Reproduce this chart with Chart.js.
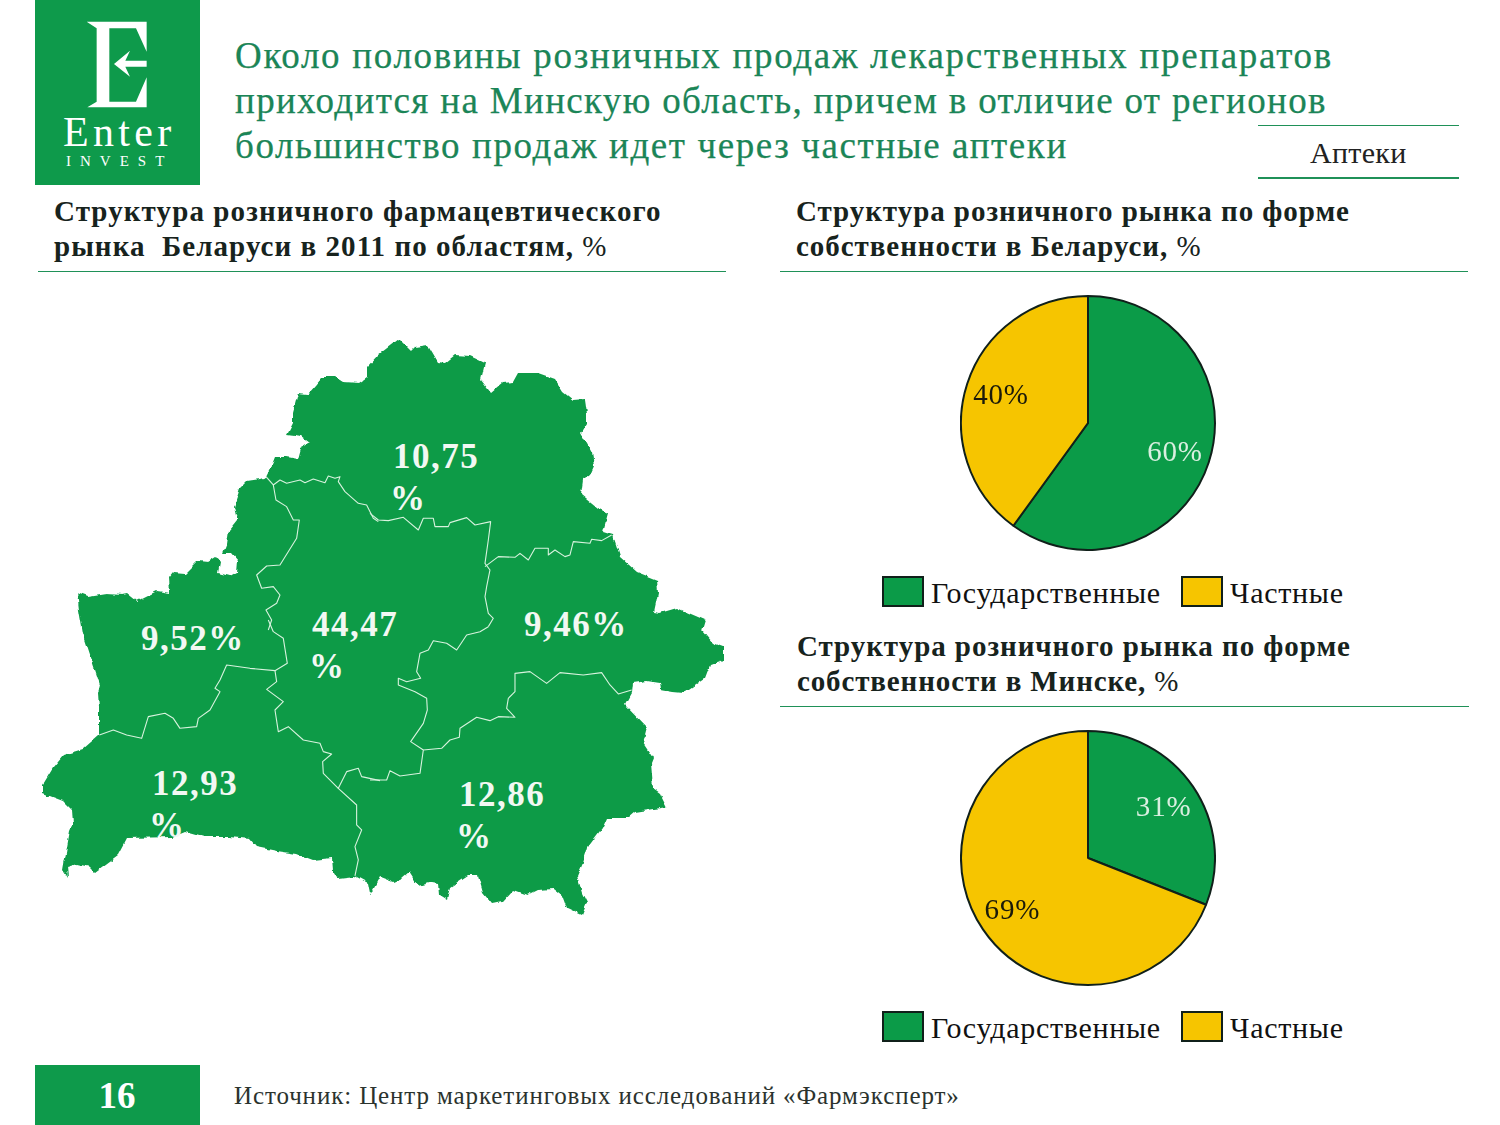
<!DOCTYPE html>
<html lang="ru">
<head>
<meta charset="utf-8">
<title>Аптеки</title>
<script src="https://cdn.jsdelivr.net/npm/chart.js@4/dist/chart.umd.min.js"></script>
<style>
html, body { margin: 0; padding: 0; background: #fff; }
#page { position: relative; width: 1500px; height: 1125px; overflow: hidden; font-family: "Liberation Serif", serif; }
.abs { position: absolute; white-space: pre; }
.title { left: 235px; color: #1b8557; font-size: 37px; line-height: 45px; -webkit-text-stroke: 0.25px #1b8557; }
.head { color: #17231d; font-weight: bold; font-size: 29px; line-height: 35px; letter-spacing: 0.95px; }
.head span { font-weight: normal; }
.rule { position: absolute; height: 1px; background: #1f9158; }
.region { color: #f2f8f3; font-weight: bold; font-size: 35px; line-height: 42px; letter-spacing: 1.5px; }
.region span { margin-left: -3px; }
.legend-box { position: absolute; width: 38px; height: 27px; border: 2px solid #10201a; }
.legend-text { color: #111; font-size: 30px; line-height: 34px; letter-spacing: 0.7px; }
canvas { position: absolute; }
</style>
</head>
<body>
<div id="page">
  <svg class="abs" style="left:0;top:0" width="1500" height="1125">
    <defs>
      <!-- roughens the straight outline segments into a coastline-like edge -->
      <filter id="rough" x="0" y="0" width="100%" height="100%" filterUnits="objectBoundingBox">
        <feTurbulence type="fractalNoise" baseFrequency="0.12" numOctaves="2" seed="4"/>
        <feDisplacementMap in="SourceGraphic" scale="5" xChannelSelector="R" yChannelSelector="G"/>
        <feGaussianBlur stdDeviation="0.45"/>
      </filter>
    </defs>
    <!-- logo and page number block -->
    <rect x="35" y="0" width="165" height="185" fill="#0e9a4b"/>
    <rect x="35" y="1065" width="165" height="60" fill="#0e9a4b"/>
    <g transform="translate(30,0) scale(0.3333)" fill="#fff">
      <path d="M170,65 L350,65 L350,155 L318,85 L238,85 L238,305 L318,305 L350,232 L350,322 L172,322 L200,305 L200,85 Z"/>
      <path d="M252,192 L300,152 L286,182 L350,182 L350,200 L286,200 L300,230 Z"/>
    </g>
    <text x="63" y="146" fill="#fff" font-family="Liberation Serif" font-size="42" letter-spacing="4.3">Enter</text>
    <text x="66" y="166" fill="#fff" font-family="Liberation Serif" font-size="15" letter-spacing="9">INVEST</text>

    <!-- map outline and region borders -->
    <g filter="url(#rough)">
    <path fill="#0a9b47" d="M77,592 L88,596 107,593 122,594 127,593 137,601 157,591 170,593 169,578 173,573 185,574 198,561 208,562 216,557 220,562 218,573 230,576 237,572 238,560 232,553 223,553 227,543 229,530 237,520 234,507 240,488 247,481 260,479 266,477 271,467 275,457 287,457 298,459 301,448 310,443 302,437 287,435 293,423 293,412 298,393 308,394 323,377 335,377 343,382 360,383 367,378 367,367 378,355 399,339 411,351 415,347 428,345 438,362 445,363 455,355 470,356 485,363 481,380 491,393 503,383 513,382 518,373 538,373 555,379 563,392 573,400 585,399 587,413 587,423 581,433 592,453 594,466 590,475 583,480 581,495 597,508 608,513 603,532 613,535 620,557 637,572 657,580 658,593 654,612 660,613 677,608 705,620 702,630 713,643 724,647 724,660 710,665 705,678 683,693 672,692 661,690 660,683 647,681 633,683 632,692 625,705 647,728 643,743 653,758 651,763 653,788 660,793 667,807 635,812 628,818 607,818 603,827 588,847 583,863 577,877 582,893 587,903 582,915 567,908 563,897 553,889 537,890 527,895 513,890 502,902 492,904 483,893 478,875 468,875 450,887 447,900 439,895 438,883 432,882 418,886 409,872 402,878 393,882 380,877 373,890 370,893 368,883 355,876 338,878 333,870 332,858 313,860 297,854 277,851 257,847 250,839 230,837 203,837 185,832 173,837 127,838 118,855 95,872 90,867 77,864 67,867 68,878 63,870 70,830 73,823 72,810 63,801 42,793 42,785 53,767 63,755 83,749 99,735 99,707 98,693 100,685 83,633 79,610 Z"/>
    </g>
    <g fill="none" stroke="#d8f3de" stroke-linejoin="round" stroke-width="3.3">
      <g transform="translate(30,330) scale(0.3333)">
        <polyline points="708,440 730,465 750,450 770,460 810,450 825,458 850,447 885,458 895,438 915,445 930,440 925,455 945,485 985,520 1010,525 1030,565 1045,575"/>
        <polyline points="730,465 738,510 770,530 790,570 808,570 800,625 750,705 710,708 680,735 695,775 730,770 750,795 740,820 708,840 725,870 715,900"/>
      </g>
      <g transform="translate(370,330) scale(0.3333)">
        <polyline points="0,550 25,570 55,572 100,562 145,600 160,565 190,565 195,590 235,590 240,578 290,563 315,585 362,575 355,630 345,700 360,720 350,770 345,800 355,850 370,865 355,890"/>
        <polyline points="345,710 385,680 435,682 450,670 475,690 495,655 535,655 535,675 555,660 585,680 600,675 610,635 660,640 665,628 695,632 725,615"/>
      </g>
      <g transform="translate(370,630) scale(0.3333)">
        <polyline points="355,-10 330,5 290,15 260,60 230,40 190,32 175,60 150,70 140,125 152,145 110,155 85,145 85,165 135,185 170,205 172,240 160,280 122,335 160,360 150,430 90,438 60,422 50,450 0,450"/>
        <polyline points="160,360 215,355 240,330 268,322 270,295 320,262 360,272 385,260 435,262 410,235 415,205 435,185 435,130 480,125 530,160 570,128 640,135 695,128 720,165 745,192 785,180"/>
      </g>
      <g transform="translate(30,630) scale(0.3333)">
        <polyline points="715,-30 730,5 760,25 772,100 735,122"/>
        <polyline points="208,315 250,300 290,315 335,325 355,260 405,250 430,265 450,295 500,290 505,265 540,240 570,185 555,175 570,150 590,105 660,115 735,122"/>
        <polyline points="735,122 740,155 710,178 760,215 735,240 745,305 775,290 820,330 870,340 880,365 905,372 878,395 880,430 925,475"/>
        <polyline points="1050,452 995,440 985,415 950,425 925,475 980,525 980,585 995,600 975,650 985,690 975,738"/>
      </g>
    </g>
    <rect x="1258" y="125" width="201" height="1" fill="#1f9158"/>
    <rect x="1258" y="177" width="201" height="2" fill="#1f9158"/>
  </svg>

  <div class="abs title" style="top:33px;letter-spacing:1.69px">Около половины розничных продаж лекарственных препаратов</div>
  <div class="abs title" style="top:78px;letter-spacing:1.34px">приходится на Минскую область, причем в отличие от регионов</div>
  <div class="abs title" style="top:123px;letter-spacing:1.6px">большинство продаж идет через частные аптеки</div>
  <div class="abs" style="left:1310px;top:136px;font-size:30px;line-height:34px;letter-spacing:.3px;color:#222">Аптеки</div>

  <div class="abs head" style="left:54px;top:194px;letter-spacing:1.1px">Структура розничного фармацевтического</div>
  <div class="abs head" style="left:54px;top:229px;letter-spacing:1.05px">рынка  Беларуси в 2011 по областям, <span>%</span></div>
  <div class="rule" style="left:38px;top:271px;width:688px"></div>

  <div class="abs head" style="left:796px;top:194px">Структура розничного рынка по форме</div>
  <div class="abs head" style="left:796px;top:229px">собственности в Беларуси, <span>%</span></div>
  <div class="rule" style="left:780px;top:271px;width:688px"></div>

  <div class="abs head" style="left:797px;top:629px">Структура розничного рынка по форме</div>
  <div class="abs head" style="left:797px;top:664px;letter-spacing:.87px">собственности в Минске, <span>%</span></div>
  <div class="rule" style="left:780px;top:706px;width:689px"></div>

  <canvas id="pieBelarus" width="256" height="256" style="left:960px;top:295px"></canvas>
  <canvas id="pieMinsk" width="256" height="256" style="left:960px;top:730px"></canvas>

  <div class="abs" style="left:0;width:234px;top:1076px;text-align:center;color:#fff;font-weight:bold;font-size:37px;line-height:40px">16</div>
  <div class="abs" style="left:234px;top:1081px;font-size:25px;line-height:30px;letter-spacing:.89px;color:#2b332e">Источник: Центр маркетинговых исследований «Фармэксперт»</div>
</div>

<script>
// Chart data
const ownershipLabels = ['Государственные', 'Частные'];
const belarusShares = [60, 40];
const minskShares = [31, 69];
const ownershipColors = ['#0b9b48', '#f6c500'];
const labelColors = ['#d9efe0', '#1a1a0a'];

// Map labels, one per region
const regionValues = [10.75, 44.47, 9.46, 9.52, 12.93, 12.86];
const regionWraps = [true, true, false, false, true, true];
const regionLefts = [393, 312, 524, 141, 152, 459];
const regionTops = [436, 604, 604, 618, 763, 774];

// Draws the percent label inside each slice, like the original
const sliceLabels = {
    id: 'sliceLabels',
    afterDatasetsDraw(chart) {
        const ctx = chart.ctx;
        const dataset = chart.data.datasets[0];
        chart.getDatasetMeta(0).data.forEach((arc, i) => {
            const props = arc.getProps(['startAngle', 'endAngle', 'outerRadius', 'x', 'y'], true);
            const mid = (props.startAngle + props.endAngle) / 2;
            const r = props.outerRadius * 0.72;
            ctx.save();
            ctx.fillStyle = labelColors[i];
            ctx.font = '29px "Liberation Serif"';
            ctx.letterSpacing = '0.8px';
            ctx.textAlign = 'center';
            ctx.textBaseline = 'middle';
            ctx.fillText(dataset.data[i] + '%', props.x + Math.cos(mid) * r, props.y + Math.sin(mid) * r + 2);
            ctx.restore();
        });
    }
};

function createPie(canvasId, shares) {
    return new Chart(document.getElementById(canvasId), {
        type: 'pie',
        data: {
            labels: ownershipLabels,
            datasets: [{
                data: shares,
                backgroundColor: ownershipColors,
                borderColor: '#10201a',
                borderWidth: 2,
            }],
        },
        options: {
            responsive: false,
            animation: false,
            layout: { padding: 0 },
            plugins: {
                legend: { display: false },
                tooltip: { enabled: false },
            },
        },
        plugins: [sliceLabels],
    });
}

// Legend under a pie, built from the same categories
function addLegend(top) {
    const page = document.getElementById('page');
    const boxLefts = [882, 1181];
    const textLefts = [931, 1230];
    ownershipLabels.forEach((label, i) => {
        const box = document.createElement('div');
        box.className = 'legend-box';
        box.style.left = boxLefts[i] + 'px';
        box.style.top = top + 'px';
        box.style.background = ownershipColors[i];
        page.appendChild(box);

        const text = document.createElement('div');
        text.className = 'abs legend-text';
        text.style.left = textLefts[i] + 'px';
        text.style.top = top + 'px';
        text.textContent = label;
        page.appendChild(text);
    });
}

function addRegionLabels() {
    const page = document.getElementById('page');
    regionValues.forEach((value, i) => {
        const label = document.createElement('div');
        label.className = 'abs region';
        label.style.left = regionLefts[i] + 'px';
        label.style.top = regionTops[i] + 'px';
        const text = value.toFixed(2).replace('.', ',');
        label.innerHTML = regionWraps[i] ? text + '\n<span>%</span>' : text + '%';
        page.appendChild(label);
    });
}

createPie('pieBelarus', belarusShares);
createPie('pieMinsk', minskShares);
addLegend(576);
addLegend(1011);
addRegionLabels();
</script>
</body>
</html>
